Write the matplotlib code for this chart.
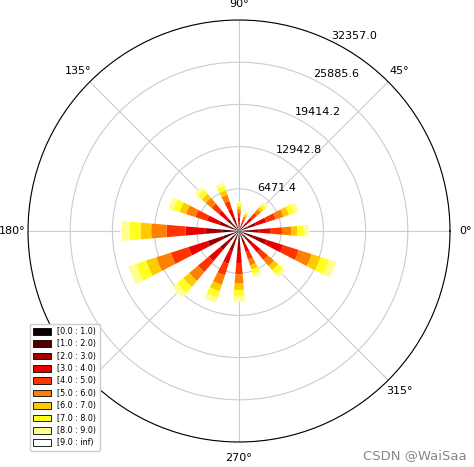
import matplotlib
matplotlib.use("Agg")
import matplotlib.pyplot as plt
from matplotlib.patches import Patch
import numpy as np

# direction (deg) and total bar length
directions = [0, 22.5, 45, 67.5, 90, 112.5, 135, 157.5,
              180, 202.5, 225, 247.5, 270, 292.5, 315, 337.5]
totals = [10800, 9700, 5900, 3200, 4500, 7900, 9000, 11500,
          18200, 18000, 13500, 11700, 10900, 7500, 9500, 15800]
bin_labels = ["[0.0 : 1.0)", "[1.0 : 2.0)", "[2.0 : 3.0)", "[3.0 : 4.0)",
              "[4.0 : 5.0)", "[5.0 : 6.0)", "[6.0 : 7.0)", "[7.0 : 8.0)",
              "[8.0 : 9.0)", "[9.0 : inf)"]
bin_share = [0.04, 0.10, 0.14, 0.17, 0.16, 0.13, 0.09, 0.09, 0.07, 0.01]
rticks = [6471.4, 12942.8, 19414.2, 25885.6, 32357.0]

cmap = plt.get_cmap("hot")
colors = [cmap(i / (len(bin_labels) - 1)) for i in range(len(bin_labels))]
colors[-1] = (1, 1, 1, 1)

R = 211
fig = plt.figure(figsize=(4.74, 4.67), dpi=100)
ax = fig.add_axes([(239 - R) / 474, (467 - 231 - R) / 467, 2 * R / 474, 2 * R / 467],
                  projection="polar")

theta = np.radians(directions)
tot = np.array(totals, dtype=float)
bottom = np.zeros_like(tot)
for share, col in zip(bin_share, colors):
    h = tot * share
    ax.bar(theta, h, width=0.17, bottom=bottom, color=col, edgecolor="none", zorder=3)
    bottom += h

ax.set_ylim(0, 32357.0)
ax.set_yticks(rticks)
ax.set_yticklabels([f"{v:.1f}" for v in rticks], fontsize=8)
ax.set_rlabel_position(64)
ax.set_xticks(np.radians([0, 45, 90, 135, 180, 225, 270, 315]))
ax.set_xticklabels(["0°", "45°", "90°", "135°", "180°", "225°", "270°", "315°"], fontsize=8)
ax.tick_params(axis="x", pad=1)
ax.grid(color="#cccccc", linewidth=0.8)
ax.spines["polar"].set_linewidth(0.8)

handles = [Patch(facecolor=c, edgecolor="black", linewidth=0.6, label=l)
           for c, l in zip(colors, bin_labels)]
leg = ax.legend(handles=handles, loc="lower left", bbox_to_anchor=(-0.005, -0.03),
                fontsize=5.8, handlelength=2.2, handleheight=0.9, labelspacing=0.42,
                framealpha=1)
leg.set_zorder(5)

fig.text(0.985, 0.01, "CSDN @WaiSaa", ha="right", va="bottom", fontsize=9.5,
         color="#888888")

fig.savefig("out.png", dpi=100)
